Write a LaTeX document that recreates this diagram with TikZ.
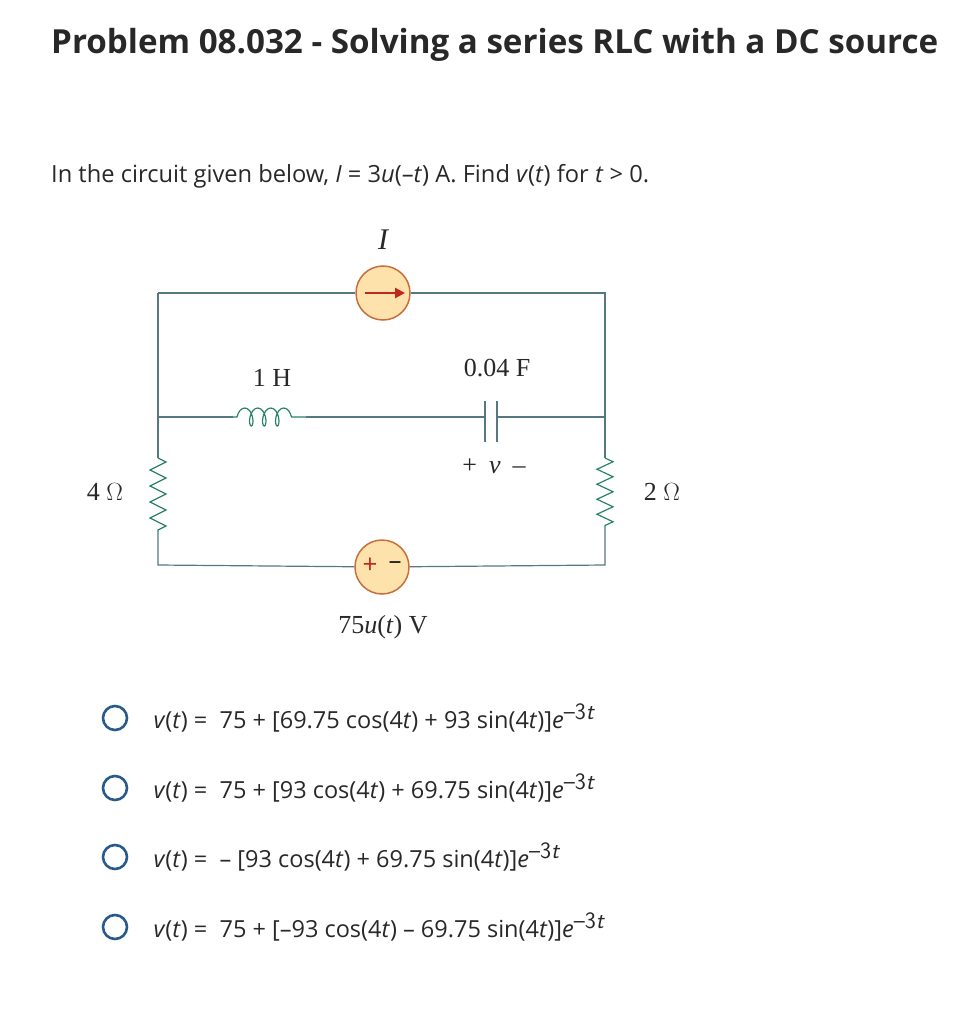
\documentclass[tikz,border=0pt]{standalone}
\usepackage{fontspec}
\setmainfont{Open Sans}
\newfontfamily\serifc{Liberation Serif}
\usetikzlibrary{decorations.pathmorphing,arrows.meta}
\definecolor{wire}{RGB}{85,120,130}
\definecolor{indc}{RGB}{40,130,100}
\definecolor{srcfill}{RGB}{253,226,172}
\definecolor{srcline}{RGB}{200,110,60}
\definecolor{arr}{RGB}{190,40,30}
\definecolor{opt}{RGB}{40,90,140}
\definecolor{txt}{RGB}{40,40,40}
\begin{document}
\begin{tikzpicture}[x=1pt,y=-1pt,
  w/.style={draw=wire,line width=1.2pt},
  src/.style={circle,draw=srcline,fill=srcfill,line width=1.5pt,minimum size=54pt,inner sep=0pt},
  lab/.style={font=\serifc\fontsize{26}{30}\selectfont,text=txt},
  body/.style={font=\fontsize{21}{24}\selectfont,text=txt,anchor=west},
  radio/.style={circle,draw=opt,line width=2.6pt,minimum size=24pt,inner sep=0pt}]
\useasboundingbox (0,0) rectangle (965,1024);
\node[anchor=west,font=\bfseries\fontsize{27}{32}\selectfont,text=txt,inner sep=0pt] (title) at (51,45) {\resizebox{887pt}{!}{Problem 08.032 - Solving a series RLC with a DC source}};
\node[body,inner sep=0pt] (q) at (51,176) {\resizebox{598pt}{!}{In the circuit given below, \textit{I} = 3\textit{u}(–\textit{t}) A. Find \textit{v}(\textit{t}) for \textit{t} > 0.}};
% corners
\coordinate (tl) at (158,293); \coordinate (tr) at (605,293);
\coordinate (ml) at (158,417); \coordinate (mr) at (605,417);
\coordinate (bl) at (158,565); \coordinate (br) at (605,565);
\coordinate (r1a) at (158,458); \coordinate (r1b) at (158,532);
\coordinate (r2a) at (605,458); \coordinate (r2b) at (605,528);
\coordinate (la) at (233,417); \coordinate (lb) at (306,417);
\coordinate (ca) at (485,417); \coordinate (cb) at (497,417);
\node[src] (cs) at (383,293) {};
\node[src] (vs) at (382,567) {};
\draw[w] (tl) -- (cs) -- (tr) -- (mr) -- (r2a);
\draw[w] (tl) -- (ml) -- (r1a);
\draw[w] (r1b) -- (bl) -- (vs) -- (br) -- (r2b);
\draw[w] (ml) -- (la);
\draw[w] (lb) -- (ca);
\draw[w] (cb) -- (mr);
\draw[w] (485,401) -- (485,442);
\draw[w] (497,401) -- (497,442);
\draw[indc,line width=1.2pt,decorate,decoration={coil,aspect=0.5,segment length=13pt,amplitude=9pt,pre length=4pt,post length=4pt}] (la) -- (lb);
\draw[indc,line width=1.2pt,decorate,decoration={zigzag,segment length=16pt,amplitude=8pt}] (r1a) -- (r1b);
\draw[indc,line width=1.2pt,decorate,decoration={zigzag,segment length=15pt,amplitude=8pt}] (r2a) -- (r2b);
\draw[arr,line width=2.5pt,-{Triangle[length=10pt,width=10pt]}] (365,293) -- (405,293);
\node[text=arr,font=\fontsize{26}{26}\selectfont] (pl) at (370,566) {+};
\node[text=txt,font=\fontsize{26}{26}\selectfont] (mi) at (395,566) {–};
\node[lab,font=\serifc\itshape\fontsize{30}{30}\selectfont] (I) at (383,240) {I};
\node[lab] (lH) at (272,378) {1 H};
\node[lab] (lF) at (497,368) {0.04 F};
\node[lab] (lv) at (494,466) {+\hspace{12pt}\textit{v}\hspace{12pt}–};
\node[lab] (l4) at (105,492) {4 $\Omega$};
\node[lab] (l2) at (662,492) {2 $\Omega$};
\node[lab] (l75) at (383,627) {75\textit{u}(\textit{t}) V};
% options
\foreach \y/\t [count=\i] in {718/{\textit{v}(\textit{t}) = \ 75 + [69.75 cos(4\textit{t}) + 93 sin(4\textit{t})]\textit{e}$^{\textsf{–3\textit{t}}}$},
 788/{\textit{v}(\textit{t}) = \ 75 + [93 cos(4\textit{t}) + 69.75 sin(4\textit{t})]\textit{e}$^{\textsf{–3\textit{t}}}$},
 857/{\textit{v}(\textit{t}) = \ – [93 cos(4\textit{t}) + 69.75 sin(4\textit{t})]\textit{e}$^{\textsf{–3\textit{t}}}$},
 927/{\textit{v}(\textit{t}) = \ 75 + [–93 cos(4\textit{t}) – 69.75 sin(4\textit{t})]\textit{e}$^{\textsf{–3\textit{t}}}$}}{
  \node[radio] (o\i) at (115,\y) {};
  \node[body,font=\fontsize{23.5}{26}\selectfont] (t\i) at (150,\y) {\t};
}
\end{tikzpicture}
\end{document}
